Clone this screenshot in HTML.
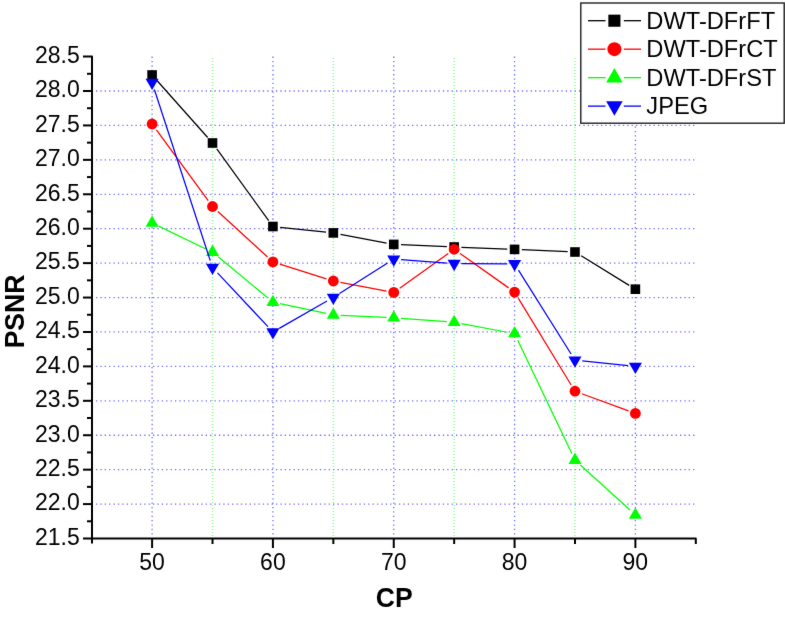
<!DOCTYPE html>
<html><head><meta charset="utf-8"><title>PSNR vs CP</title>
<style>html,body{margin:0;padding:0;background:#fff;}svg{display:block;}</style>
</head><body>
<svg width="785" height="617" viewBox="0 0 785 617"><defs><filter id="bl" x="0" y="0" width="785" height="617" filterUnits="userSpaceOnUse" color-interpolation-filters="sRGB"><feConvolveMatrix order="3" kernelMatrix="0.0120 0.0450 0.0120 0.0450 0.7720 0.0450 0.0120 0.0450 0.0120" divisor="1" edgeMode="duplicate" preserveAlpha="false"/></filter></defs><g filter="url(#bl)"><rect width="785" height="617" fill="#fff"/><g stroke="#3030ff" stroke-opacity="0.7" stroke-width="1.3" stroke-dasharray="1.3 3.091"><line x1="91.55" y1="504.08" x2="696.31" y2="504.08"/><line x1="91.55" y1="469.66" x2="696.31" y2="469.66"/><line x1="91.55" y1="435.23" x2="696.31" y2="435.23"/><line x1="91.55" y1="400.81" x2="696.31" y2="400.81"/><line x1="91.55" y1="366.39" x2="696.31" y2="366.39"/><line x1="91.55" y1="331.97" x2="696.31" y2="331.97"/><line x1="91.55" y1="297.55" x2="696.31" y2="297.55"/><line x1="91.55" y1="263.12" x2="696.31" y2="263.12"/><line x1="91.55" y1="228.70" x2="696.31" y2="228.70"/><line x1="91.55" y1="194.28" x2="696.31" y2="194.28"/><line x1="91.55" y1="159.86" x2="696.31" y2="159.86"/><line x1="91.55" y1="125.44" x2="696.31" y2="125.44"/><line x1="91.55" y1="91.01" x2="696.31" y2="91.01"/></g>
<g stroke="#3030ff" stroke-opacity="0.7" stroke-width="1.3" stroke-dasharray="1.3 3.072"><line x1="152.10" y1="56.59" x2="152.10" y2="537.50"/><line x1="272.92" y1="56.59" x2="272.92" y2="537.50"/><line x1="393.75" y1="56.59" x2="393.75" y2="537.50"/><line x1="514.57" y1="56.59" x2="514.57" y2="537.50"/><line x1="635.39" y1="56.59" x2="635.39" y2="537.50"/></g>
<g stroke="#20ff20" stroke-opacity="0.55" stroke-width="1.4" stroke-dasharray="1 2"><line x1="212.51" y1="58.1" x2="212.51" y2="537.50"/><line x1="333.34" y1="58.1" x2="333.34" y2="537.50"/><line x1="454.16" y1="58.1" x2="454.16" y2="537.50"/><line x1="574.98" y1="58.1" x2="574.98" y2="537.50"/></g>
<g stroke="#000" stroke-width="2" stroke-linecap="butt" stroke-linejoin="round"><path d="M83,56.59 H92.0 V543.5" fill="none"/><path d="M83,538.50 H695.81 V544.00" fill="none"/><line x1="87" y1="521.29" x2="92.0" y2="521.29"/><line x1="83" y1="504.08" x2="92.0" y2="504.08"/><line x1="87" y1="486.87" x2="92.0" y2="486.87"/><line x1="83" y1="469.66" x2="92.0" y2="469.66"/><line x1="87" y1="452.44" x2="92.0" y2="452.44"/><line x1="83" y1="435.23" x2="92.0" y2="435.23"/><line x1="87" y1="418.02" x2="92.0" y2="418.02"/><line x1="83" y1="400.81" x2="92.0" y2="400.81"/><line x1="87" y1="383.60" x2="92.0" y2="383.60"/><line x1="83" y1="366.39" x2="92.0" y2="366.39"/><line x1="87" y1="349.18" x2="92.0" y2="349.18"/><line x1="83" y1="331.97" x2="92.0" y2="331.97"/><line x1="87" y1="314.76" x2="92.0" y2="314.76"/><line x1="83" y1="297.55" x2="92.0" y2="297.55"/><line x1="87" y1="280.34" x2="92.0" y2="280.34"/><line x1="83" y1="263.12" x2="92.0" y2="263.12"/><line x1="87" y1="245.91" x2="92.0" y2="245.91"/><line x1="83" y1="228.70" x2="92.0" y2="228.70"/><line x1="87" y1="211.49" x2="92.0" y2="211.49"/><line x1="83" y1="194.28" x2="92.0" y2="194.28"/><line x1="87" y1="177.07" x2="92.0" y2="177.07"/><line x1="83" y1="159.86" x2="92.0" y2="159.86"/><line x1="87" y1="142.65" x2="92.0" y2="142.65"/><line x1="83" y1="125.44" x2="92.0" y2="125.44"/><line x1="87" y1="108.23" x2="92.0" y2="108.23"/><line x1="83" y1="91.01" x2="92.0" y2="91.01"/><line x1="87" y1="73.80" x2="92.0" y2="73.80"/><line x1="152.10" y1="538.50" x2="152.10" y2="548.00"/><line x1="212.51" y1="538.50" x2="212.51" y2="544.00"/><line x1="272.92" y1="538.50" x2="272.92" y2="548.00"/><line x1="333.34" y1="538.50" x2="333.34" y2="544.00"/><line x1="393.75" y1="538.50" x2="393.75" y2="548.00"/><line x1="454.16" y1="538.50" x2="454.16" y2="544.00"/><line x1="514.57" y1="538.50" x2="514.57" y2="548.00"/><line x1="574.98" y1="538.50" x2="574.98" y2="544.00"/><line x1="635.39" y1="538.50" x2="635.39" y2="548.00"/></g>
<g font-family="Liberation Sans, Arial, sans-serif" font-size="23" fill="#000"><text x="79.8" y="544.80" text-anchor="end">21.5</text><text x="79.8" y="510.38" text-anchor="end">22.0</text><text x="79.8" y="475.96" text-anchor="end">22.5</text><text x="79.8" y="441.53" text-anchor="end">23.0</text><text x="79.8" y="407.11" text-anchor="end">23.5</text><text x="79.8" y="372.69" text-anchor="end">24.0</text><text x="79.8" y="338.27" text-anchor="end">24.5</text><text x="79.8" y="303.85" text-anchor="end">25.0</text><text x="79.8" y="269.42" text-anchor="end">25.5</text><text x="79.8" y="235.00" text-anchor="end">26.0</text><text x="79.8" y="200.58" text-anchor="end">26.5</text><text x="79.8" y="166.16" text-anchor="end">27.0</text><text x="79.8" y="131.74" text-anchor="end">27.5</text><text x="79.8" y="97.31" text-anchor="end">28.0</text><text x="79.8" y="62.89" text-anchor="end">28.5</text><text x="152.10" y="570.3" text-anchor="middle" font-size="23">50</text><text x="272.92" y="570.3" text-anchor="middle" font-size="23">60</text><text x="393.75" y="570.3" text-anchor="middle" font-size="23">70</text><text x="514.57" y="570.3" text-anchor="middle" font-size="23">80</text><text x="635.39" y="570.3" text-anchor="middle" font-size="23">90</text></g>
<text transform="translate(394.3,606.9) scale(0.965,1)" x="0" y="0" text-anchor="middle" font-family="Liberation Sans, Arial, sans-serif" font-size="27.5" font-weight="bold">CP</text>
<text transform="translate(24.3,311.45) rotate(-90) scale(0.943,1)" x="0" y="0" text-anchor="middle" font-family="Liberation Sans, Arial, sans-serif" font-size="28.2" font-weight="bold">PSNR</text>
<g stroke="#000" stroke-width="1.25" stroke-linecap="butt"><line x1="156.95" y1="80.46" x2="207.66" y2="137.54"/><line x1="216.79" y1="148.91" x2="268.65" y2="220.59"/><line x1="280.18" y1="227.27" x2="326.08" y2="232.13"/><line x1="340.51" y1="234.27" x2="386.58" y2="243.03"/><line x1="401.04" y1="244.71" x2="446.87" y2="246.69"/><line x1="461.45" y1="247.29" x2="507.28" y2="249.11"/><line x1="521.86" y1="249.71" x2="567.69" y2="251.69"/><line x1="581.20" y1="255.83" x2="629.18" y2="285.37"/></g>
<rect x="147.30" y="70.20" width="9.60" height="9.60" fill="#000"/><rect x="207.71" y="138.20" width="9.60" height="9.60" fill="#000"/><rect x="268.12" y="221.70" width="9.60" height="9.60" fill="#000"/><rect x="328.54" y="228.10" width="9.60" height="9.60" fill="#000"/><rect x="388.95" y="239.60" width="9.60" height="9.60" fill="#000"/><rect x="449.36" y="242.20" width="9.60" height="9.60" fill="#000"/><rect x="509.77" y="244.60" width="9.60" height="9.60" fill="#000"/><rect x="570.18" y="247.20" width="9.60" height="9.60" fill="#000"/><rect x="630.59" y="284.40" width="9.60" height="9.60" fill="#000"/>
<g stroke="#ff0000" stroke-width="1.25" stroke-linecap="butt"><line x1="156.41" y1="129.89" x2="208.20" y2="200.61"/><line x1="217.89" y1="211.43" x2="267.54" y2="256.97"/><line x1="279.88" y1="264.10" x2="326.38" y2="278.80"/><line x1="340.51" y1="282.35" x2="386.57" y2="291.05"/><line x1="399.69" y1="288.16" x2="448.22" y2="253.54"/><line x1="460.12" y1="253.52" x2="508.61" y2="287.88"/><line x1="518.37" y1="298.33" x2="571.18" y2="384.97"/><line x1="581.83" y1="393.72" x2="628.54" y2="410.88"/></g>
<circle cx="152.10" cy="124.00" r="5.40" fill="#ff0000"/><circle cx="212.51" cy="206.50" r="5.40" fill="#ff0000"/><circle cx="272.92" cy="261.90" r="5.40" fill="#ff0000"/><circle cx="333.34" cy="281.00" r="5.40" fill="#ff0000"/><circle cx="393.75" cy="292.40" r="5.40" fill="#ff0000"/><circle cx="454.16" cy="249.30" r="5.40" fill="#ff0000"/><circle cx="514.57" cy="292.10" r="5.40" fill="#ff0000"/><circle cx="574.98" cy="391.20" r="5.40" fill="#ff0000"/><circle cx="635.39" cy="413.40" r="5.40" fill="#ff0000"/>
<g stroke="#00ff00" stroke-width="1.25" stroke-linecap="butt"><line x1="158.67" y1="226.11" x2="205.94" y2="248.96"/><line x1="218.13" y1="256.79" x2="267.30" y2="297.53"/><line x1="280.07" y1="303.70" x2="326.19" y2="313.47"/><line x1="340.63" y1="315.32" x2="386.46" y2="317.40"/><line x1="401.03" y1="318.28" x2="446.88" y2="321.69"/><line x1="461.33" y1="323.58" x2="507.40" y2="332.24"/><line x1="517.72" y1="340.17" x2="571.84" y2="453.55"/><line x1="580.39" y1="465.04" x2="629.99" y2="510.03"/></g>
<polygon points="152.10,215.40 158.65,226.70 145.55,226.70" fill="#00ff00"/><polygon points="212.51,244.60 219.06,255.90 205.96,255.90" fill="#00ff00"/><polygon points="272.92,294.65 279.47,305.95 266.37,305.95" fill="#00ff00"/><polygon points="333.34,307.45 339.89,318.75 326.79,318.75" fill="#00ff00"/><polygon points="393.75,310.20 400.30,321.50 387.20,321.50" fill="#00ff00"/><polygon points="454.16,314.70 460.71,326.00 447.61,326.00" fill="#00ff00"/><polygon points="514.57,326.05 521.12,337.35 508.02,337.35" fill="#00ff00"/><polygon points="574.98,452.60 581.53,463.90 568.43,463.90" fill="#00ff00"/><polygon points="635.39,507.40 641.94,518.70 628.84,518.70" fill="#00ff00"/>
<g stroke="#0000ff" stroke-width="1.25" stroke-linecap="butt"><line x1="154.37" y1="89.51" x2="210.25" y2="260.63"/><line x1="217.51" y1="272.89" x2="267.93" y2="326.64"/><line x1="279.26" y1="328.34" x2="327.00" y2="301.04"/><line x1="339.50" y1="293.51" x2="387.58" y2="263.07"/><line x1="401.03" y1="259.70" x2="446.88" y2="263.08"/><line x1="461.46" y1="263.65" x2="507.27" y2="263.84"/><line x1="518.45" y1="270.05" x2="571.10" y2="354.03"/><line x1="582.24" y1="360.96" x2="628.13" y2="365.67"/></g>
<polygon points="145.55,78.80 158.65,78.80 152.10,90.10" fill="#0000ff"/><polygon points="205.96,263.80 219.06,263.80 212.51,275.10" fill="#0000ff"/><polygon points="266.37,328.20 279.47,328.20 272.92,339.50" fill="#0000ff"/><polygon points="326.79,293.65 339.89,293.65 333.34,304.95" fill="#0000ff"/><polygon points="387.20,255.40 400.30,255.40 393.75,266.70" fill="#0000ff"/><polygon points="447.61,259.85 460.71,259.85 454.16,271.15" fill="#0000ff"/><polygon points="508.02,260.10 521.12,260.10 514.57,271.40" fill="#0000ff"/><polygon points="568.43,356.45 581.53,356.45 574.98,367.75" fill="#0000ff"/><polygon points="628.84,362.65 641.94,362.65 635.39,373.95" fill="#0000ff"/>
<rect x="580.8" y="3" width="203.4" height="120.2" fill="#fff" stroke="#222" stroke-width="1.4"/><line x1="588" y1="20.70" x2="605.5" y2="20.70" stroke="#000" stroke-width="1.3"/><line x1="623.8" y1="20.70" x2="641" y2="20.70" stroke="#000" stroke-width="1.3"/><rect x="608.35" y="14.65" width="12.10" height="12.10" fill="#000"/><text transform="translate(646.3,28.70) scale(1.03,1)" x="0" y="0" font-family="Liberation Sans, Arial, sans-serif" font-size="23" fill="#000">DWT-DFrFT</text><line x1="588" y1="49.17" x2="605.5" y2="49.17" stroke="#ff0000" stroke-width="1.3"/><line x1="623.8" y1="49.17" x2="641" y2="49.17" stroke="#ff0000" stroke-width="1.3"/><circle cx="614.40" cy="49.17" r="7.00" fill="#ff0000"/><text transform="translate(646.3,57.17) scale(1.03,1)" x="0" y="0" font-family="Liberation Sans, Arial, sans-serif" font-size="23" fill="#000">DWT-DFrCT</text><line x1="588" y1="77.64" x2="605.5" y2="77.64" stroke="#00ff00" stroke-width="1.3"/><line x1="623.8" y1="77.64" x2="641" y2="77.64" stroke="#00ff00" stroke-width="1.3"/><polygon points="614.40,68.11 622.65,82.41 606.15,82.41" fill="#00ff00"/><text transform="translate(646.3,85.64) scale(1.03,1)" x="0" y="0" font-family="Liberation Sans, Arial, sans-serif" font-size="23" fill="#000">DWT-DFrST</text><line x1="588" y1="106.11" x2="605.5" y2="106.11" stroke="#0000ff" stroke-width="1.3"/><line x1="623.8" y1="106.11" x2="641" y2="106.11" stroke="#0000ff" stroke-width="1.3"/><polygon points="606.15,101.34 622.65,101.34 614.40,115.64" fill="#0000ff"/><text transform="translate(646.3,114.11) scale(1.03,1)" x="0" y="0" font-family="Liberation Sans, Arial, sans-serif" font-size="23" fill="#000">JPEG</text></g></svg>
</body></html>
